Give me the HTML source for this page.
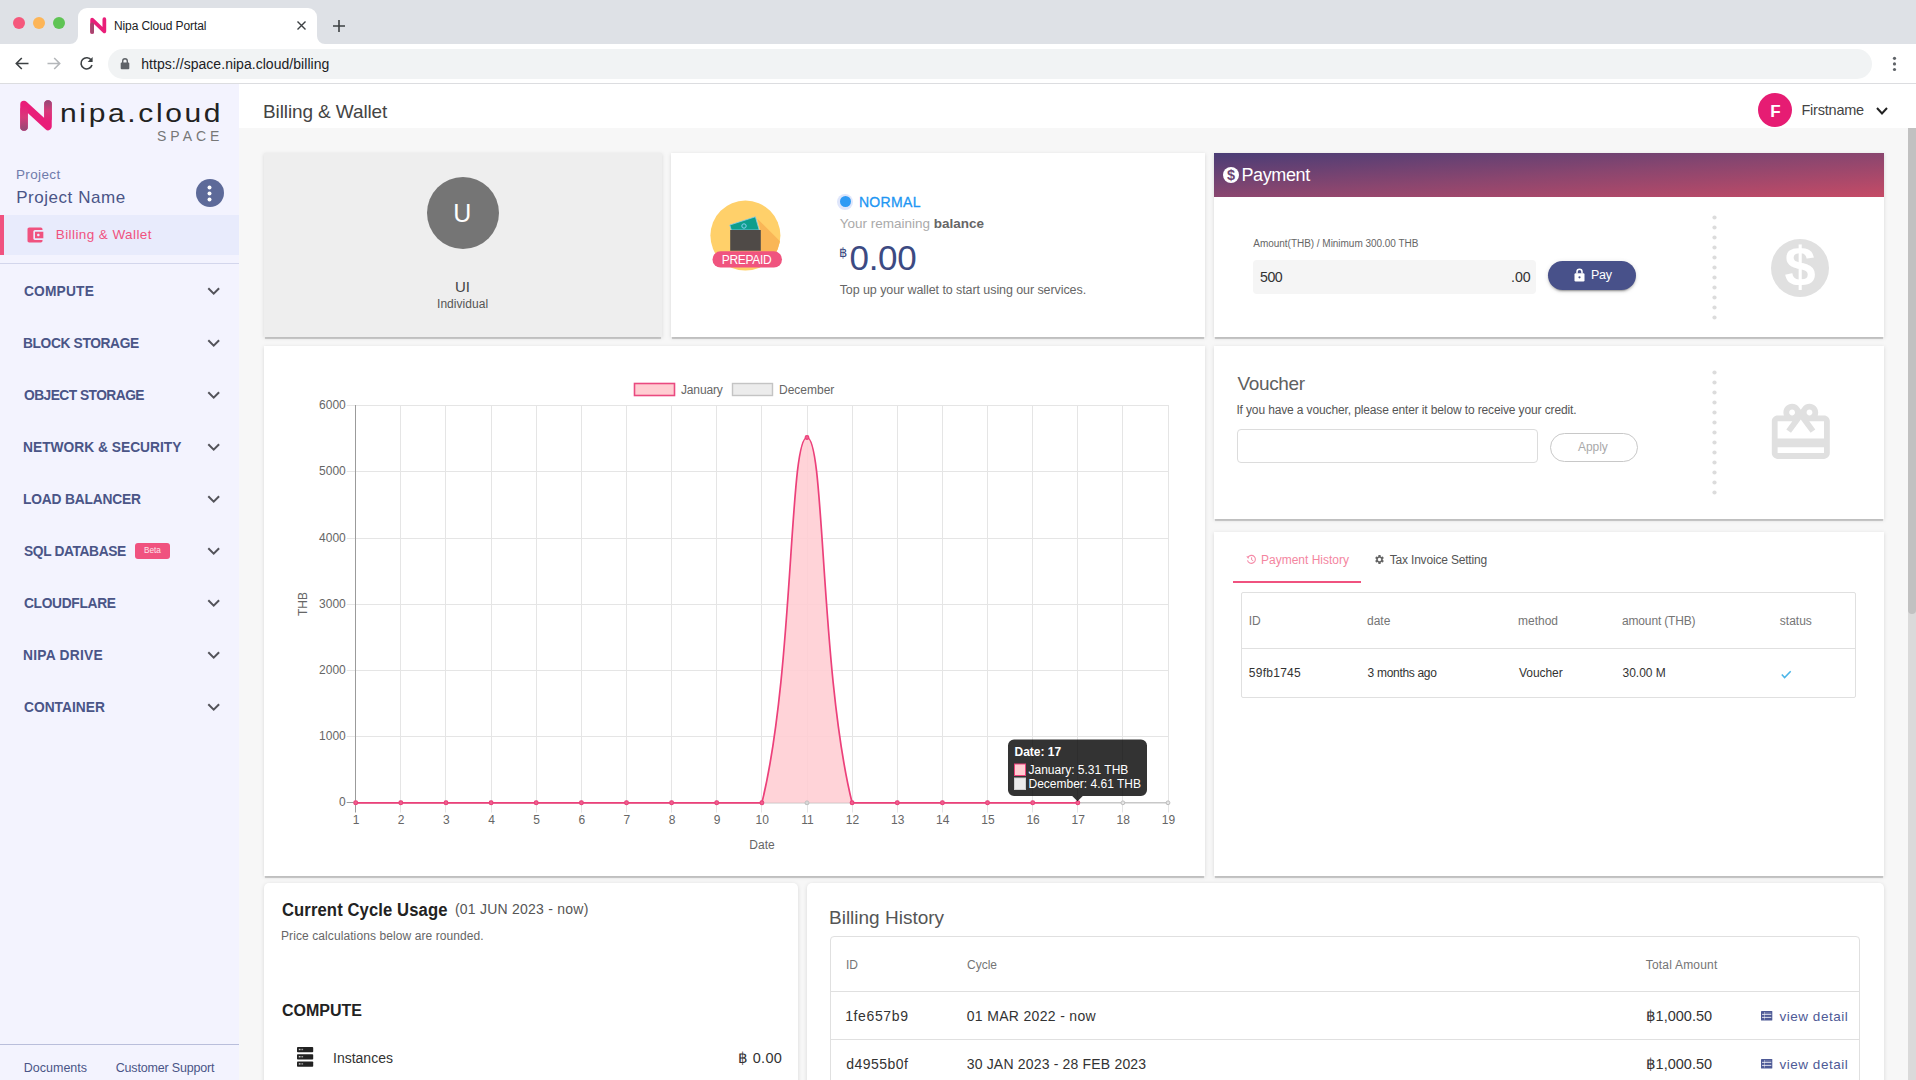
<!DOCTYPE html>
<html lang="en">
<head>
<meta charset="utf-8">
<title>Nipa Cloud Portal</title>
<style>
*{box-sizing:border-box;margin:0;padding:0}
html,body{width:1916px;height:1080px;overflow:hidden;background:#f7f7f7;font-family:"Liberation Sans",sans-serif;color:#333}
.a{position:absolute}
.t{position:absolute;white-space:nowrap;line-height:1}
svg{position:absolute;overflow:visible}
/* browser chrome */
#tabbar{left:0;top:0;width:1916px;height:44px;background:#dee1e6}
#tab{left:78px;top:8px;width:239px;height:36px;background:#fff;border-radius:9px 9px 0 0}
#toolbar{left:0;top:44px;width:1916px;height:40px;background:#fff;border-bottom:1px solid #dcdde0}
#url{left:108px;top:48.5px;width:1764px;height:30px;border-radius:15px;background:#f1f3f4}
.dot{position:absolute;width:12.4px;height:12.4px;border-radius:50%;top:16.7px}
/* sidebar */
#side{left:0;top:84px;width:239px;height:996px;background:#f3f3fe}
#active{left:0;top:215px;width:239px;height:40px;background:#e8ebfc;border-left:4px solid #f0527f}
.mi{position:absolute;font-weight:bold;font-size:14.5px;color:#4a5587;white-space:nowrap;line-height:20px;transform:scaleX(.95);transform-origin:0 50%}
.card{position:absolute;background:#fff;box-shadow:0 3px 0.6px -1px rgba(0,0,0,.16),0 1px 4px 0 rgba(0,0,0,.13)}
</style>
</head>
<body>
<!-- ============ browser chrome ============ -->
<div class="a" id="tabbar"></div>
<div class="dot" style="left:12.6px;background:#f5587c"></div>
<div class="dot" style="left:32.7px;background:#fdb557"></div>
<div class="dot" style="left:52.6px;background:#5fc454"></div>
<div class="a" id="tab"></div>
<svg style="left:70px;top:36px" width="8" height="8"><path d="M8 0v8H0a8 8 0 0 0 8-8z" fill="#fff"/></svg>
<svg style="left:317px;top:36px" width="8" height="8"><path d="M0 0v8h8a8 8 0 0 1-8-8z" fill="#fff"/></svg>
<svg style="left:89.6px;top:17.4px" width="17" height="17" viewBox="0 0 32 32"><path d="M4 28V5l23 22V4" fill="none" stroke="#e91e79" stroke-width="7" stroke-linecap="round" stroke-linejoin="round"/><path d="M4 28V14" stroke="#a5466e" stroke-width="7" stroke-linecap="round"/></svg>
<div class="t" id="tabt" style="left:113.9px;top:20px;font-size:12px;color:#202124;letter-spacing:-0.09px">Nipa Cloud Portal</div>
<svg style="left:297px;top:21px" width="9" height="9"><path d="M0.5 0.5l8 8M8.5 0.5l-8 8" stroke="#3c4043" stroke-width="1.4"/></svg>
<svg style="left:333px;top:20px" width="12" height="12"><path d="M6 0v12M0 6h12" stroke="#3c4043" stroke-width="1.6"/></svg>
<div class="a" id="toolbar"></div>
<div class="a" id="url"></div>
<svg style="left:15px;top:57px" width="14" height="13"><path d="M13.5 6.5H1.5M6.8 1L1.3 6.5l5.5 5.5" fill="none" stroke="#3c4043" stroke-width="1.6"/></svg>
<svg style="left:47px;top:57px" width="14" height="13"><path d="M0.5 6.5h12M7.2 1l5.5 5.5L7.2 12" fill="none" stroke="#b4b7ba" stroke-width="1.6"/></svg>
<svg style="left:79px;top:56px" width="15" height="15"><path d="M12.3 4.2A5.6 5.6 0 1 0 13 9" fill="none" stroke="#3c4043" stroke-width="1.6"/><path d="M13.6 1v5h-5z" fill="#3c4043"/></svg>
<svg style="left:120px;top:57px" width="10" height="13"><path d="M2.7 6V4a2.3 2.3 0 0 1 4.6 0v2" fill="none" stroke="#5f6368" stroke-width="1.4"/><rect x="0.7" y="5.6" width="8.6" height="6.6" rx="1" fill="#5f6368"/></svg>
<div class="t" id="urlt" style="left:141.3px;top:56.5px;font-size:14px;color:#202124;letter-spacing:0.04px">https://space.nipa.cloud/billing</div>
<svg style="left:1892px;top:56px" width="5" height="16"><circle cx="2.5" cy="2.3" r="1.6" fill="#5f6368"/><circle cx="2.5" cy="7.9" r="1.6" fill="#5f6368"/><circle cx="2.5" cy="13.5" r="1.6" fill="#5f6368"/></svg>

<!-- ============ sidebar ============ -->
<div class="a" id="side"></div>
<svg style="left:20px;top:100px" width="32" height="31" viewBox="0 0 32 31"><defs><linearGradient id="ng1" gradientUnits="userSpaceOnUse" x1="0" y1="6" x2="0" y2="31"><stop offset="0" stop-color="#e91e79"/><stop offset=".45" stop-color="#d73a7a"/><stop offset="1" stop-color="#8e4a74"/></linearGradient><linearGradient id="ng2" gradientUnits="userSpaceOnUse" x1="0" y1="0" x2="0" y2="22"><stop offset="0" stop-color="#8e4a74"/><stop offset=".5" stop-color="#d73a7a"/><stop offset="1" stop-color="#e91e79"/></linearGradient></defs><path d="M4 27V4.5L28 26.5V4" fill="none" stroke="#e91e79" stroke-width="7.5" stroke-linecap="round" stroke-linejoin="round"/><path d="M4 27V10" stroke="url(#ng1)" stroke-width="7.5" stroke-linecap="round"/><path d="M28 4v14" stroke="url(#ng2)" stroke-width="7.5" stroke-linecap="round"/></svg>
<div class="t" id="lg1" style="left:60.0px;top:101px;font-size:25px;color:#222;letter-spacing:2.2px;transform:scaleX(1.2);transform-origin:0 50%">nipa.cloud</div>
<div class="t" id="lg2" style="left:157.0px;top:129px;font-size:14px;color:#777;letter-spacing:4.00px">SPACE</div>
<div class="t" id="sp1" style="left:15.9px;top:167.5px;font-size:13.5px;color:#6f7bab;letter-spacing:0.38px">Project</div>
<div class="t" id="sp2" style="left:16.2px;top:189px;font-size:17px;color:#4a5587;letter-spacing:0.54px">Project Name</div>
<div class="a" style="left:195.600px;top:178.900px;width:28px;height:28px;border-radius:50%;background:#5d6a99"></div>
<svg style="left:207.100px;top:184.800px" width="5" height="17"><circle cx="2.500" cy="2.500" r="2" fill="#fff"/><circle cx="2.500" cy="8.500" r="2" fill="#fff"/><circle cx="2.500" cy="14.500" r="2" fill="#fff"/></svg>
<div class="a" id="active"></div>
<svg style="left:25.3px;top:225px" width="20" height="20" viewBox="0 0 24 24"><path fill="#f0527f" d="M21 18v1c0 1.100-.9 2-2 2H5c-1.110 0-2-.9-2-2V5c0-1.100.890-2 2-2h14c1.100 0 2 .9 2 2v1h-9c-1.110 0-2 .9-2 2v8c0 1.100.890 2 2 2h9zm-9-2h10V8H12v8zm4-2.500c-.830 0-1.500-.670-1.500-1.500s.670-1.500 1.500-1.500 1.500.670 1.500 1.500-.670 1.500-1.500 1.500z"/></svg>
<div class="t" id="sb1" style="left:55.8px;top:228px;font-size:13.5px;color:#f0527f;letter-spacing:0.41px">Billing &amp; Wallet</div>
<div class="a" style="left:0;top:263px;width:239px;height:1px;background:#d3d6ec"></div>
<div class="mi" id="mi0" style="left:24px;top:281px;letter-spacing:0.17px">COMPUTE</div>
<svg style="left:207px;top:287px" width="13" height="9"><path d="M1.300 1.200L6.700 6.600l5.400-5.400" fill="none" stroke="#53535a" stroke-width="2"/></svg>
<div class="mi" id="mi1" style="left:23.4px;top:333px;letter-spacing:-0.39px">BLOCK STORAGE</div>
<svg style="left:207px;top:339px" width="13" height="9"><path d="M1.300 1.200L6.700 6.600l5.400-5.400" fill="none" stroke="#53535a" stroke-width="2"/></svg>
<div class="mi" id="mi2" style="left:24px;top:385px;letter-spacing:-0.57px">OBJECT STORAGE</div>
<svg style="left:207px;top:391px" width="13" height="9"><path d="M1.300 1.200L6.700 6.600l5.400-5.400" fill="none" stroke="#53535a" stroke-width="2"/></svg>
<div class="mi" id="mi3" style="left:23.4px;top:437px;letter-spacing:0px">NETWORK &amp; SECURITY</div>
<svg style="left:207px;top:443px" width="13" height="9"><path d="M1.300 1.200L6.700 6.600l5.400-5.400" fill="none" stroke="#53535a" stroke-width="2"/></svg>
<div class="mi" id="mi4" style="left:23.4px;top:489px;letter-spacing:-0.20px">LOAD BALANCER</div>
<svg style="left:207px;top:495px" width="13" height="9"><path d="M1.300 1.200L6.700 6.600l5.400-5.400" fill="none" stroke="#53535a" stroke-width="2"/></svg>
<div class="mi" id="mi5" style="left:24px;top:541px;letter-spacing:-0.40px">SQL DATABASE</div>
<svg style="left:207px;top:547px" width="13" height="9"><path d="M1.300 1.200L6.700 6.600l5.400-5.400" fill="none" stroke="#53535a" stroke-width="2"/></svg>
<div class="mi" id="mi6" style="left:24px;top:593px;letter-spacing:-0.34px">CLOUDFLARE</div>
<svg style="left:207px;top:599px" width="13" height="9"><path d="M1.300 1.200L6.700 6.600l5.400-5.400" fill="none" stroke="#53535a" stroke-width="2"/></svg>
<div class="mi" id="mi7" style="left:23.4px;top:645px;letter-spacing:0.28px">NIPA DRIVE</div>
<svg style="left:207px;top:651px" width="13" height="9"><path d="M1.300 1.200L6.700 6.600l5.400-5.400" fill="none" stroke="#53535a" stroke-width="2"/></svg>
<div class="mi" id="mi8" style="left:24px;top:697px;letter-spacing:0px">CONTAINER</div>
<svg style="left:207px;top:703px" width="13" height="9"><path d="M1.300 1.200L6.700 6.600l5.400-5.400" fill="none" stroke="#53535a" stroke-width="2"/></svg>
<div class="a" style="left:135px;top:543px;width:35px;height:16px;border-radius:3px;background:#f0527f"></div>
<div class="t" style="left:144px;top:546.8px;font-size:8.2px;color:#fde3ea">Beta</div>
<div class="a" style="left:0;top:1044px;width:239px;height:1px;background:#b9bedb"></div>
<div class="t" id="sf1" style="left:23.8px;top:1062px;font-size:12.5px;color:#4a5587">Documents</div>
<div class="t" id="sf2" style="left:115.7px;top:1062px;font-size:12.5px;color:#4a5587;letter-spacing:-0.17px">Customer Support</div>
<!-- ============ header ============ -->
<div class="a" style="left:239px;top:84px;width:1677px;height:44px;background:#fff"></div>
<div class="t" id="h1" style="left:263px;top:101.8px;font-size:19px;color:#444;letter-spacing:-0.11px">Billing &amp; Wallet</div>
<div class="a" style="left:1758px;top:93px;width:34px;height:34px;border-radius:50%;background:#e61c73"></div>
<div class="t" id="h2" style="left:1770.3px;top:103px;font-size:17px;color:#fff;font-weight:bold">F</div>
<div class="t" id="h3" style="left:1801.4px;top:103.3px;font-size:14.5px;color:#444;letter-spacing:-0.21px">Firstname</div>
<svg style="left:1876px;top:107px" width="12" height="8"><path d="M1 1l5 5.500 5-5.500" fill="none" stroke="#222" stroke-width="2"/></svg>
<!-- scrollbar -->
<div class="a" style="left:1908px;top:128px;width:8px;height:952px;background:#dadada"></div>
<div class="a" style="left:1908px;top:128px;width:8px;height:485.5px;background:#c1c1c1;border-radius:0 0 4px 4px"></div>

<!-- ============ user card ============ -->
<div class="card" style="left:264px;top:152.5px;width:398px;height:184.5px;background:#eeeeee"></div>
<div class="a" style="left:427px;top:177px;width:72px;height:72px;border-radius:50%;background:#757575"></div>
<div class="t" id="u1" style="left:453.3px;top:201px;font-size:25px;color:#fff">U</div>
<div class="t" id="u2" style="left:455px;top:279px;font-size:15px;color:#444">UI</div>
<div class="t" id="u3" style="left:437.0px;top:298px;font-size:12px;color:#555;letter-spacing:0.05px">Individual</div>

<!-- ============ balance card ============ -->
<div class="card" style="left:671px;top:152.5px;width:534px;height:184.5px"></div>
<svg style="left:708px;top:199px" width="76" height="74" viewBox="708 199 76 74">
<defs><clipPath id="pc"><circle cx="745.4" cy="235.6" r="35"/></clipPath></defs>
<circle cx="745.4" cy="235.6" r="35" fill="#ffd06a"/>
<g clip-path="url(#pc)"><path d="M757.5 218.8l30 30v12h-27v-30z" fill="#f9b657"/></g>
<path d="M729.8 225l25.600-8.200 3.800 13.200h-27.900z" fill="#0d9e8c" stroke="#86cdef" stroke-width="0.800"/>
<circle cx="744" cy="226" r="2.200" fill="none" stroke="#86cdef" stroke-width="1"/>
<rect x="730.2" y="230" width="30.600" height="20.800" fill="#4f4a47"/>
<rect x="712.5" y="251.3" width="69.500" height="16.200" rx="8.100" fill="#f0547f"/>
</svg>
<div class="t" id="b0" style="left:721.800px;top:253.600px;font-size:12px;color:#fff;letter-spacing:-0.32px">PREPAID</div>
<div class="a" style="left:837px;top:193.500px;width:16px;height:16px;border-radius:50%;background:#dfe6fb"></div>
<div class="a" style="left:839.500px;top:196px;width:11px;height:11px;border-radius:50%;background:#2f9bf4"></div>
<div class="t" id="b1" style="left:858.9px;top:194.500px;font-size:14px;color:#2196f3;-webkit-text-stroke:0.3px #2196f3;letter-spacing:0.34px">NORMAL</div>
<div class="t" id="b2" style="left:839.7px;top:217px;font-size:13.5px;color:#aaa">Your remaining <b style="color:#666">balance</b></div>
<div class="t" id="b3" style="left:839px;top:246px;font-size:13px;color:#3c4a82">฿</div>
<div class="t" id="b4" style="left:849.5px;top:239.5px;font-size:35px;color:#3c4a82;letter-spacing:-0.3px">0.00</div>
<div class="t" id="b5" style="left:839.7px;top:283.5px;font-size:12.5px;color:#666;letter-spacing:-0.08px">Top up your wallet to start using our services.</div>

<!-- ============ payment card ============ -->
<div class="card" style="left:1214px;top:152.5px;width:670px;height:184.5px"></div>
<div class="a" style="left:1214px;top:152.5px;width:670px;height:44.5px;background:linear-gradient(to bottom right,#4a3d76 0%,#8a466f 50%,#c54b66 100%)"></div>
<svg style="left:1223px;top:167px" width="16" height="16" viewBox="0 0 16 16"><circle cx="8" cy="8" r="8" fill="#fff"/></svg>
<div class="t" id="p0s" style="left:1227px;top:167.5px;font-size:14.5px;color:#6a4373;font-weight:bold">$</div>
<div class="t" id="p0" style="left:1241.5px;top:166px;font-size:18px;color:#fff;letter-spacing:-0.4px">Payment</div>
<div class="t" id="p1" style="left:1253.3px;top:238.500px;font-size:10px;color:#666;letter-spacing:-0.03px">Amount(THB) / Minimum 300.00 THB</div>
<div class="a" style="left:1253px;top:260px;width:283px;height:34px;border-radius:4px;background:#f5f5f5"></div>
<div class="t" id="p2" style="left:1260.1px;top:270px;font-size:14.2px;color:#333;letter-spacing:-0.50px">500</div>
<div class="t" id="p3" style="left:1511px;top:269.500px;font-size:14.2px;color:#333">.00</div>
<div class="a" style="left:1547.8px;top:261px;width:88px;height:29px;border-radius:15px;background:#48518a;box-shadow:0 3px 1px -2px rgba(0,0,0,.2),0 2px 2px 0 rgba(0,0,0,.14),0 1px 5px 0 rgba(0,0,0,.12)"></div>
<svg style="left:1574px;top:268px" width="11" height="14" viewBox="0 0 11 14"><path d="M3 5.500V3.700a2.500 2.500 0 0 1 5 0V5.500" fill="none" stroke="#fff" stroke-width="1.500"/><rect x=".500" y="5.200" width="10" height="8.300" rx="1.200" fill="#fff"/><circle cx="5.500" cy="9.300" r="1.100" fill="#48518a"/></svg>
<div class="t" id="p4" style="left:1591.0px;top:268.500px;font-size:12.5px;color:#fff;letter-spacing:-0.30px">Pay</div>
<div class="a" style="left:1798px;top:267.500px"></div>
<svg style="left:1771px;top:239px" width="58" height="58" viewBox="0 0 58 58"><circle cx="29" cy="29" r="29" fill="#e0e0e0"/></svg>
<div class="t" id="p5" style="left:1784.5px;top:239px;font-size:56px;color:#fff;font-weight:bold">$</div>
<!-- ============ chart card ============ -->
<div class="card" style="left:264px;top:346px;width:941px;height:530px"></div>
<svg style="left:264px;top:346px" width="941" height="530" viewBox="264 346 941 530" font-family="Liberation Sans, sans-serif" font-size="12" fill="#666">
<path d="M400.5 405.0V812.5" stroke="#e5e5e5" stroke-width="1"/><path d="M445.5 405.0V812.5" stroke="#e5e5e5" stroke-width="1"/><path d="M491.5 405.0V812.5" stroke="#e5e5e5" stroke-width="1"/><path d="M536.5 405.0V812.5" stroke="#e5e5e5" stroke-width="1"/><path d="M581.5 405.0V812.5" stroke="#e5e5e5" stroke-width="1"/><path d="M626.5 405.0V812.5" stroke="#e5e5e5" stroke-width="1"/><path d="M671.5 405.0V812.5" stroke="#e5e5e5" stroke-width="1"/><path d="M716.5 405.0V812.5" stroke="#e5e5e5" stroke-width="1"/><path d="M761.5 405.0V812.5" stroke="#e5e5e5" stroke-width="1"/><path d="M807.5 405.0V812.5" stroke="#e5e5e5" stroke-width="1"/><path d="M852.5 405.0V812.5" stroke="#e5e5e5" stroke-width="1"/><path d="M897.5 405.0V812.5" stroke="#e5e5e5" stroke-width="1"/><path d="M942.5 405.0V812.5" stroke="#e5e5e5" stroke-width="1"/><path d="M987.5 405.0V812.5" stroke="#e5e5e5" stroke-width="1"/><path d="M1032.5 405.0V812.5" stroke="#e5e5e5" stroke-width="1"/><path d="M1077.5 405.0V812.5" stroke="#e5e5e5" stroke-width="1"/><path d="M1122.5 405.0V812.5" stroke="#e5e5e5" stroke-width="1"/><path d="M1168.5 405.0V812.5" stroke="#e5e5e5" stroke-width="1"/><path d="M346.7 736.5H1169.0" stroke="#e5e5e5" stroke-width="1"/><path d="M346.7 670.5H1169.0" stroke="#e5e5e5" stroke-width="1"/><path d="M346.7 604.5H1169.0" stroke="#e5e5e5" stroke-width="1"/><path d="M346.7 538.5H1169.0" stroke="#e5e5e5" stroke-width="1"/><path d="M346.7 471.5H1169.0" stroke="#e5e5e5" stroke-width="1"/><path d="M346.7 405.5H1169.0" stroke="#e5e5e5" stroke-width="1"/><path d="M355.5 405.0V812.5" stroke="#9b9b9b" stroke-width="1"/><path d="M346.7 802.5H1169.0" stroke="#9b9b9b" stroke-width="1"/>
<rect x="634.5" y="383.5" width="40" height="12" fill="#ffcdd2" stroke="#ea4a80" stroke-width="1.6"/>
<text id="c1" x="681" y="393.5" letter-spacing="-0.15">January</text>
<rect x="732.5" y="383.5" width="40" height="12" fill="#ececec" stroke="#c4c4c4" stroke-width="1.4"/>
<text id="c2" x="779" y="393.5">December</text>
<text x="345.8" y="806.4" text-anchor="end">0</text>
<text x="345.8" y="740.2" text-anchor="end">1000</text>
<text x="345.8" y="674.0" text-anchor="end">2000</text>
<text x="345.8" y="607.8" text-anchor="end">3000</text>
<text x="345.8" y="541.6" text-anchor="end">4000</text>
<text x="345.8" y="475.4" text-anchor="end">5000</text>
<text x="345.8" y="409.2" text-anchor="end">6000</text>
<text x="356.1" y="824.2" text-anchor="middle">1</text>
<text x="401.2" y="824.2" text-anchor="middle">2</text>
<text x="446.4" y="824.2" text-anchor="middle">3</text>
<text x="491.5" y="824.2" text-anchor="middle">4</text>
<text x="536.6" y="824.2" text-anchor="middle">5</text>
<text x="581.8" y="824.2" text-anchor="middle">6</text>
<text x="626.9" y="824.2" text-anchor="middle">7</text>
<text x="672.0" y="824.2" text-anchor="middle">8</text>
<text x="717.1" y="824.2" text-anchor="middle">9</text>
<text x="762.3" y="824.2" text-anchor="middle">10</text>
<text x="807.4" y="824.2" text-anchor="middle">11</text>
<text x="852.5" y="824.2" text-anchor="middle">12</text>
<text x="897.7" y="824.2" text-anchor="middle">13</text>
<text x="942.8" y="824.2" text-anchor="middle">14</text>
<text x="987.9" y="824.2" text-anchor="middle">15</text>
<text x="1033.1" y="824.2" text-anchor="middle">16</text>
<text x="1078.2" y="824.2" text-anchor="middle">17</text>
<text x="1123.3" y="824.2" text-anchor="middle">18</text>
<text x="1168.4" y="824.2" text-anchor="middle">19</text>
<text x="762" y="848.5" text-anchor="middle">Date</text>
<text transform="translate(306.5 604) rotate(-90)" text-anchor="middle">THB</text>
<path d="M355.7 802.8H1168.0" stroke="#c8c8c8" stroke-width="1.5" fill="none"/>
<circle cx="355.7" cy="802.8" r="1.9" fill="#e6e6e6" stroke="#bdbdbd" stroke-width="1"/>
<circle cx="400.8" cy="802.8" r="1.9" fill="#e6e6e6" stroke="#bdbdbd" stroke-width="1"/>
<circle cx="446.0" cy="802.8" r="1.9" fill="#e6e6e6" stroke="#bdbdbd" stroke-width="1"/>
<circle cx="491.1" cy="802.8" r="1.9" fill="#e6e6e6" stroke="#bdbdbd" stroke-width="1"/>
<circle cx="536.2" cy="802.8" r="1.9" fill="#e6e6e6" stroke="#bdbdbd" stroke-width="1"/>
<circle cx="581.4" cy="802.8" r="1.9" fill="#e6e6e6" stroke="#bdbdbd" stroke-width="1"/>
<circle cx="626.5" cy="802.8" r="1.9" fill="#e6e6e6" stroke="#bdbdbd" stroke-width="1"/>
<circle cx="671.6" cy="802.8" r="1.9" fill="#e6e6e6" stroke="#bdbdbd" stroke-width="1"/>
<circle cx="716.7" cy="802.8" r="1.9" fill="#e6e6e6" stroke="#bdbdbd" stroke-width="1"/>
<circle cx="761.9" cy="802.8" r="1.9" fill="#e6e6e6" stroke="#bdbdbd" stroke-width="1"/>
<circle cx="807.0" cy="802.8" r="1.9" fill="#e6e6e6" stroke="#bdbdbd" stroke-width="1"/>
<circle cx="852.1" cy="802.8" r="1.9" fill="#e6e6e6" stroke="#bdbdbd" stroke-width="1"/>
<circle cx="897.3" cy="802.8" r="1.9" fill="#e6e6e6" stroke="#bdbdbd" stroke-width="1"/>
<circle cx="942.4" cy="802.8" r="1.9" fill="#e6e6e6" stroke="#bdbdbd" stroke-width="1"/>
<circle cx="987.5" cy="802.8" r="1.9" fill="#e6e6e6" stroke="#bdbdbd" stroke-width="1"/>
<circle cx="1032.7" cy="802.8" r="1.9" fill="#e6e6e6" stroke="#bdbdbd" stroke-width="1"/>
<circle cx="1077.8" cy="802.8" r="1.9" fill="#e6e6e6" stroke="#bdbdbd" stroke-width="1"/>
<circle cx="1122.9" cy="802.8" r="1.9" fill="#e6e6e6" stroke="#bdbdbd" stroke-width="1"/>
<circle cx="1168.0" cy="802.8" r="1.9" fill="#e6e6e6" stroke="#bdbdbd" stroke-width="1"/>
<path d="M761.9 802.8 C794.1 672.0 789.0 437.5 807.0 437.5 C825.0 437.5 819.9 672.0 852.1 802.8Z" fill="#ffcdd3" fill-opacity="0.88"/>
<path d="M355.7 802.8H761.9 C794.1 672.0 789.0 437.5 807.0 437.5 C825.0 437.5 819.9 672.0 852.1 802.8 H1077.8" stroke="#ec407a" stroke-width="1.7" fill="none" stroke-linejoin="round"/>
<circle cx="355.7" cy="802.8" r="1.9" fill="#f0608f" stroke="#ec407a" stroke-width="1.1"/>
<circle cx="400.8" cy="802.8" r="1.9" fill="#f0608f" stroke="#ec407a" stroke-width="1.1"/>
<circle cx="446.0" cy="802.8" r="1.9" fill="#f0608f" stroke="#ec407a" stroke-width="1.1"/>
<circle cx="491.1" cy="802.8" r="1.9" fill="#f0608f" stroke="#ec407a" stroke-width="1.1"/>
<circle cx="536.2" cy="802.8" r="1.9" fill="#f0608f" stroke="#ec407a" stroke-width="1.1"/>
<circle cx="581.4" cy="802.8" r="1.9" fill="#f0608f" stroke="#ec407a" stroke-width="1.1"/>
<circle cx="626.5" cy="802.8" r="1.9" fill="#f0608f" stroke="#ec407a" stroke-width="1.1"/>
<circle cx="671.6" cy="802.8" r="1.9" fill="#f0608f" stroke="#ec407a" stroke-width="1.1"/>
<circle cx="716.7" cy="802.8" r="1.9" fill="#f0608f" stroke="#ec407a" stroke-width="1.1"/>
<circle cx="761.9" cy="802.8" r="1.9" fill="#f0608f" stroke="#ec407a" stroke-width="1.1"/>
<circle cx="807.0" cy="437.5" r="1.9" fill="#f0608f" stroke="#ec407a" stroke-width="1.1"/>
<circle cx="852.1" cy="802.8" r="1.9" fill="#f0608f" stroke="#ec407a" stroke-width="1.1"/>
<circle cx="897.3" cy="802.8" r="1.9" fill="#f0608f" stroke="#ec407a" stroke-width="1.1"/>
<circle cx="942.4" cy="802.8" r="1.9" fill="#f0608f" stroke="#ec407a" stroke-width="1.1"/>
<circle cx="987.5" cy="802.8" r="1.9" fill="#f0608f" stroke="#ec407a" stroke-width="1.1"/>
<circle cx="1032.7" cy="802.8" r="1.9" fill="#f0608f" stroke="#ec407a" stroke-width="1.1"/>
<circle cx="1077.8" cy="802.8" r="1.9" fill="#f0608f" stroke="#ec407a" stroke-width="1.1"/>
<circle cx="807.0" cy="802.8" r="1.9" fill="#d8d8d8" stroke="#c2c2c2" stroke-width="1"/>
<path d="M1014.5 739.5h126.5a6 6 0 0 1 6 6v44.5a6 6 0 0 1-6 6h-58.2l-5.300 5.300-5.300-5.300h-58.200a6 6 0 0 1-6-6v-44.500a6 6 0 0 1 6-6z" fill="#000" fill-opacity="0.8"/>
<text id="tt0" x="1014.5" y="755.5" fill="#fff" font-weight="bold">Date: 17</text>
<rect x="1014.5" y="764" width="11" height="11.5" fill="#ffcdd2" stroke="#ec407a" stroke-width="1"/>
<rect x="1014.5" y="778" width="11" height="11.5" fill="#ececec" stroke="#d0d0d0" stroke-width="1"/>
<text id="tt1" x="1028.5" y="773.7" fill="#fff">January: 5.31 THB</text>
<text id="tt2" x="1028.5" y="787.7" fill="#fff">December: 4.61 THB</text>
</svg>
<!-- ============ voucher card ============ -->
<div class="card" style="left:1214px;top:346px;width:670px;height:173px"></div>
<div class="t" id="v0" style="left:1237.4px;top:374.1px;font-size:19px;color:#606060;letter-spacing:-0.33px">Voucher</div>
<div class="t" id="v1" style="left:1236.4px;top:404px;font-size:12px;color:#555;letter-spacing:-0.13px">If you have a voucher, please enter it below to receive your credit.</div>
<div class="a" style="left:1237px;top:429px;width:301px;height:34px;border-radius:4px;background:#fff;border:1px solid #dcdcdc"></div>
<div class="a" style="left:1549.500px;top:433px;width:88px;height:29px;border-radius:15px;background:#fff;border:1px solid #c8c8c8"></div>
<div class="t" id="v2" style="left:1578.1px;top:441px;font-size:12px;color:#aaa;letter-spacing:-0.10px">Apply</div>
<svg style="left:1765.6px;top:398.2px" width="69.6" height="69.6" viewBox="0 0 24 24"><path fill="#e0e0e0" d="M20 6h-2.180c.110-.310.180-.650.180-1 0-1.660-1.340-3-3-3-1.050 0-1.960.540-2.500 1.350l-.5.670-.5-.680C10.960 2.540 10.050 2 9 2 7.340 2 6 3.340 6 5c0 .350.070.690.180 1H4c-1.110 0-1.990.890-1.990 2L2 19c0 1.110.890 2 2 2h16c1.110 0 2-.890 2-2V8c0-1.110-.890-2-2-2zm-5-2c.550 0 1 .450 1 1s-.450 1-1 1-1-.450-1-1 .450-1 1-1zM9 4c.550 0 1 .450 1 1s-.450 1-1 1-1-.450-1-1 .450-1 1-1zm11 15H4v-2h16v2zm0-5H4V8h5.080L7 10.830 8.620 12 11 8.760l1-1.360 1 1.360L15.380 12 17 10.830 14.920 8H20v6z"/></svg>

<!-- ============ payment history card ============ -->
<div class="card" style="left:1214px;top:532px;width:670px;height:344px"></div>
<svg style="left:1246px;top:554px" width="11" height="11" viewBox="0 0 11 11"><path d="M2 3.200A4 4 0 1 1 1.500 6.300" fill="none" stroke="#f58aa7" stroke-width="1.100"/><path d="M0.300 2.200l2.800 .3-.8 2.400z" fill="#f58aa7"/><path d="M5.600 3.300v2.500l1.700 1" fill="none" stroke="#f58aa7" stroke-width="1"/></svg>
<div class="t" id="ph0" style="left:1261.0px;top:553.500px;font-size:12px;color:#f4869f">Payment History</div>
<div class="a" style="left:1233px;top:581px;width:128px;height:2.2px;background:#f0527f"></div>
<svg style="left:1374px;top:554px" width="11" height="11" viewBox="0 0 24 24"><path fill="#666" d="M19.140 12.940c.04-.3.060-.61.060-.94 0-.32-.020-.64-.070-.94l2.030-1.580a.49.490 0 0 0 .12-.61l-1.920-3.320a.488.488 0 0 0-.59-.22l-2.390.96c-.5-.38-1.030-.7-1.620-.94l-.36-2.540a.484.484 0 0 0-.48-.41h-3.840c-.24 0-.43.170-.47.410l-.36 2.540c-.59.240-1.130.57-1.620.94l-2.390-.96c-.22-.080-.47 0-.59.220L2.740 8.870c-.12.210-.08.470.12.610l2.030 1.580c-.05.300-.09.630-.09.940s.02.640.07.940l-2.030 1.580a.49.490 0 0 0-.12.610l1.920 3.320c.12.220.37.290.59.220l2.390-.96c.5.380 1.030.7 1.620.94l.36 2.540c.05.240.24.410.48.410h3.840c.24 0 .44-.17.470-.41l.36-2.540c.59-.24 1.130-.56 1.620-.94l2.390.96c.22.080.47 0 .59-.22l1.920-3.320c.12-.22.070-.47-.12-.61l-2.010-1.580zM12 15.600c-1.980 0-3.600-1.620-3.600-3.600s1.620-3.600 3.600-3.600 3.600 1.620 3.600 3.600-1.620 3.600-3.600 3.600z"/></svg>
<div class="t" id="ph1" style="left:1389.7px;top:553.500px;font-size:12px;color:#555;letter-spacing:-0.18px">Tax Invoice Setting</div>
<div class="a" style="left:1241px;top:592px;width:615px;height:106px;border:1px solid #e0e0e0;border-radius:2px"></div>
<div class="a" style="left:1242px;top:648px;width:613px;height:1px;background:#e0e0e0"></div>
<div class="t" id="ph2" style="left:1248.7px;top:614.5px;font-size:12px;color:#757575">ID</div>
<div class="t" id="ph3" style="left:1367px;top:614.500px;font-size:12px;color:#757575">date</div>
<div class="t" id="ph4" style="left:1518.0px;top:614.500px;font-size:12px;color:#757575">method</div>
<div class="t" id="ph5" style="left:1622.0px;top:614.500px;font-size:12px;color:#757575;letter-spacing:-0.16px">amount (THB)</div>
<div class="t" id="ph6" style="left:1779.8px;top:614.500px;font-size:12px;color:#757575;letter-spacing:0.00px">status</div>
<div class="t" id="ph7" style="left:1248.8px;top:666.5px;font-size:12px;color:#333;letter-spacing:0.26px">59fb1745</div>
<div class="t" id="ph8" style="left:1367.6px;top:666.5px;font-size:12px;color:#333;letter-spacing:-0.31px">3 months ago</div>
<div class="t" id="ph9" style="left:1519px;top:666.5px;font-size:12px;color:#333;letter-spacing:-0.06px">Voucher</div>
<div class="t" id="ph10" style="left:1622.5px;top:666.5px;font-size:12px;color:#333">30.00 M</div>
<svg style="left:1781px;top:669px" width="11" height="10"><path d="M.8 5.400l2.800 3.200L9.700 2.200" fill="none" stroke="#4ab5e8" stroke-width="1.500"/></svg>

<!-- ============ current cycle usage ============ -->
<div class="card" style="left:264px;top:882.500px;width:534px;height:210px;border-radius:5px 5px 0 0"></div>
<div class="t" id="cu0" style="transform:scaleX(.95);transform-origin:0 50%;left:282px;top:901.7px;font-size:17.5px;color:#222;font-weight:bold;letter-spacing:0.11px">Current Cycle Usage</div>
<div class="t" id="cu1" style="left:454.9px;top:902px;font-size:14px;color:#555;letter-spacing:0.24px">(01 JUN 2023 - now)</div>
<div class="t" id="cu2" style="left:281px;top:929.8px;font-size:12px;color:#666;letter-spacing:0.09px">Price calculations below are rounded.</div>
<div class="t" id="cu3" style="left:282px;top:1003px;font-size:16px;color:#222;font-weight:bold">COMPUTE</div>
<svg style="left:297px;top:1046.800px" width="17" height="20" viewBox="0 0 17 20"><rect x="0" y="0.0" width="16.200" height="5.300" rx="0.800" fill="#222"/><rect x="1.800" y="1.8" width="1.700" height="1.400" fill="#ccc"/><rect x="4.400" y="1.8" width="1.700" height="1.400" fill="#999"/><rect x="0" y="7.2" width="16.200" height="5.300" rx="0.800" fill="#222"/><rect x="1.800" y="9.0" width="1.700" height="1.400" fill="#ccc"/><rect x="4.400" y="9.0" width="1.700" height="1.400" fill="#999"/><rect x="0" y="14.4" width="16.200" height="5.300" rx="0.800" fill="#222"/><rect x="1.800" y="16.2" width="1.700" height="1.400" fill="#ccc"/><rect x="4.400" y="16.2" width="1.700" height="1.400" fill="#999"/></svg>
<div class="t" id="cu4" style="left:333.0px;top:1050.7px;font-size:14px;color:#333">Instances</div>
<div class="t" id="cu5" style="left:738px;top:1050.7px;font-size:14.5px;color:#333;letter-spacing:0.32px">฿ 0.00</div>

<!-- ============ billing history ============ -->
<div class="card" style="left:806.500px;top:882.500px;width:1077.500px;height:210px;border-radius:5px 5px 0 0"></div>
<div class="t" id="bh0" style="left:829.0px;top:907.8px;font-size:19px;color:#555">Billing History</div>
<div class="a" style="left:830px;top:936px;width:1030px;height:160px;border:1px solid #e0e0e0;border-radius:4px"></div>
<div class="a" style="left:831px;top:991px;width:1028px;height:1px;background:#e0e0e0"></div>
<div class="a" style="left:831px;top:1039px;width:1028px;height:1px;background:#e0e0e0"></div>
<div class="t" id="bh1" style="left:846px;top:959px;font-size:12px;color:#757575">ID</div>
<div class="t" id="bh2" style="left:967px;top:959px;font-size:12px;color:#757575">Cycle</div>
<div class="t" id="bh3" style="left:1645.8px;top:959px;font-size:12px;color:#757575;letter-spacing:0.19px">Total Amount</div>
<div class="t" id="bh4" style="left:845.2px;top:1009px;font-size:14px;color:#333;letter-spacing:0.63px">1fe657b9</div>
<div class="t" id="bh5" style="left:966.7px;top:1009px;font-size:14px;color:#333;letter-spacing:0.33px">01 MAR 2022 - now</div>
<div class="t" id="bh6" style="left:1645.6px;top:1009px;font-size:14.5px;color:#333">฿1,000.50</div>
<div class="t" id="bh7" style="left:1779.4px;top:1009.7px;font-size:13.5px;color:#4e5a96;letter-spacing:0.54px">view detail</div>
<div class="t" id="bh8" style="left:846.2px;top:1057px;font-size:14px;color:#333;letter-spacing:0.49px">d4955b0f</div>
<div class="t" id="bh9" style="left:966.7px;top:1057px;font-size:14px;color:#333;letter-spacing:0.18px">30 JAN 2023 - 28 FEB 2023</div>
<div class="t" id="bh10" style="left:1645.6px;top:1057px;font-size:14.5px;color:#333">฿1,000.50</div>
<div class="t" id="bh11" style="left:1779.4px;top:1057.7px;font-size:13.5px;color:#4e5a96;letter-spacing:0.54px">view detail</div>
<svg style="left:1761px;top:1011.400px" width="11" height="10"><rect x="0" y="0" width="11.300" height="9.600" rx="0.600" fill="#4e5a96"/><rect x="1" y="2.900" width="9.300" height="0.800" fill="#fff"/><rect x="1" y="5.900" width="9.300" height="0.800" fill="#fff"/><rect x="3" y="1" width="0.600" height="7.600" fill="#fff" fill-opacity="0.700"/><rect x="3.600" y="1.100" width="6.700" height="1.800" fill="#fff" fill-opacity="0.150"/></svg>
<svg style="left:1761px;top:1059.400px" width="11" height="10"><rect x="0" y="0" width="11.300" height="9.600" rx="0.600" fill="#4e5a96"/><rect x="1" y="2.900" width="9.300" height="0.800" fill="#fff"/><rect x="1" y="5.900" width="9.300" height="0.800" fill="#fff"/><rect x="3" y="1" width="0.600" height="7.600" fill="#fff" fill-opacity="0.700"/><rect x="3.600" y="1.100" width="6.700" height="1.800" fill="#fff" fill-opacity="0.150"/></svg>
<svg style="left:1711.5px;top:215.0px" width="5" height="110"><circle cx="2.500" cy="2.5" r="2.100" fill="#dcdcdc"/><circle cx="2.500" cy="12.5" r="2.100" fill="#dcdcdc"/><circle cx="2.500" cy="22.5" r="2.100" fill="#dcdcdc"/><circle cx="2.500" cy="32.5" r="2.100" fill="#dcdcdc"/><circle cx="2.500" cy="42.5" r="2.100" fill="#dcdcdc"/><circle cx="2.500" cy="52.5" r="2.100" fill="#dcdcdc"/><circle cx="2.500" cy="62.5" r="2.100" fill="#dcdcdc"/><circle cx="2.500" cy="72.5" r="2.100" fill="#dcdcdc"/><circle cx="2.500" cy="82.5" r="2.100" fill="#dcdcdc"/><circle cx="2.500" cy="92.5" r="2.100" fill="#dcdcdc"/><circle cx="2.500" cy="102.5" r="2.100" fill="#dcdcdc"/></svg>
<svg style="left:1711.5px;top:369.5px" width="5" height="130"><circle cx="2.500" cy="2.5" r="2.100" fill="#dcdcdc"/><circle cx="2.500" cy="12.5" r="2.100" fill="#dcdcdc"/><circle cx="2.500" cy="22.5" r="2.100" fill="#dcdcdc"/><circle cx="2.500" cy="32.5" r="2.100" fill="#dcdcdc"/><circle cx="2.500" cy="42.5" r="2.100" fill="#dcdcdc"/><circle cx="2.500" cy="52.5" r="2.100" fill="#dcdcdc"/><circle cx="2.500" cy="62.5" r="2.100" fill="#dcdcdc"/><circle cx="2.500" cy="72.5" r="2.100" fill="#dcdcdc"/><circle cx="2.500" cy="82.5" r="2.100" fill="#dcdcdc"/><circle cx="2.500" cy="92.5" r="2.100" fill="#dcdcdc"/><circle cx="2.500" cy="102.5" r="2.100" fill="#dcdcdc"/><circle cx="2.500" cy="112.5" r="2.100" fill="#dcdcdc"/><circle cx="2.500" cy="122.5" r="2.100" fill="#dcdcdc"/></svg>
</body>
</html>
